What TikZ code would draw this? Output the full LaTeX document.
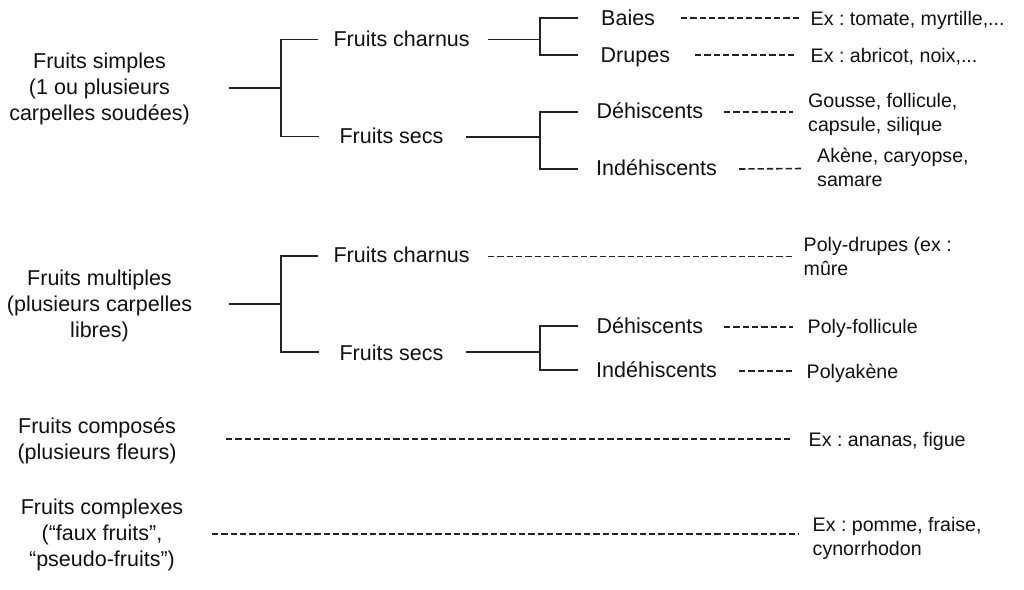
\documentclass[tikz,border=0pt]{standalone}
\usepackage{fontspec}
\setmainfont{Liberation Sans}
\newcommand{\mlines}[2]{\begin{tabular}[t]{@{}#1@{}}#2\end{tabular}}
\definecolor{txt}{HTML}{111111}
\definecolor{ln}{HTML}{222222}
\frenchspacing
\begin{document}
\begin{tikzpicture}[x=1pt,y=-1pt,
  big/.style={inner sep=0pt, font=\fontsize{21.5}{26}\selectfont, text=txt},
  small/.style={inner sep=0pt, font=\fontsize{19.6}{24}\selectfont, text=txt},
  link/.style={draw=ln, line width=1.6pt},
  dline/.style={draw=ln, line width=1.6pt, dash pattern=on 6.3pt off 3pt}]
\useasboundingbox[fill=white] (0,0) rectangle (1024,589);

% ---------- Group 1 : fruits simples ----------
\node[big, anchor=base] (fs) at (99.5,68.5) {\mlines{c}{Fruits simples\\(1 ou plusieurs\\carpelles soudées)}};
\node[big, anchor=base west] (fc1) at (333.3,46.5) {Fruits charnus};
\node[big, anchor=base west] (fsec1) at (339.3,143.5) {Fruits secs};
\node[big, anchor=base west] (baies) at (601,25.5) {Baies};
\node[big, anchor=base west] (drupes) at (600.5,62.5) {Drupes};
\node[small, anchor=base west] (exb) at (810.5,25) {Ex : tomate, myrtille,...};
\node[small, anchor=base west] (exd) at (810.5,62.3) {Ex : abricot, noix,...};
\node[big, anchor=base west] (deh1) at (596.5,118.5) {Déhiscents};
\node[big, anchor=base west] (ind1) at (596,175.5) {Indéhiscents};
\node[small, anchor=base west] (exdeh1) at (808,107) {\mlines{l}{Gousse, follicule,\\capsule, silique}};
\node[small, anchor=base west] (exind1) at (817,162.5) {\mlines{l}{Akène, caryopse,\\samare}};

\coordinate (a1) at (229,88);   \coordinate (j1) at (281,88);
\coordinate (j1t) at (281,39.5); \coordinate (j1b) at (281,136.5);
\coordinate (e1t) at (318,39.5); \coordinate (e1b) at (319,136.5);
\draw[link] (a1) -- (j1);
\draw[link] (e1t) -- (j1t) -- (j1b) -- (e1b);

\coordinate (c1s) at (488,39.5); \coordinate (k1) at (540,39.5);
\coordinate (k1t) at (540,18);   \coordinate (k1b) at (540,55);
\coordinate (k1te) at (578,18);  \coordinate (k1be) at (578,55);
\draw[link] (c1s) -- (k1);
\draw[link] (k1te) -- (k1t) -- (k1b) -- (k1be);

\coordinate (s1s) at (466,137);  \coordinate (m1) at (540,137);
\coordinate (m1t) at (540,112);  \coordinate (m1b) at (540,169);
\coordinate (m1te) at (578,112); \coordinate (m1be) at (578,169);
\draw[link] (s1s) -- (m1);
\draw[link] (m1te) -- (m1t) -- (m1b) -- (m1be);

\coordinate (db1s) at (681,18);  \coordinate (db1e) at (799,18);
\coordinate (dd1s) at (695,55);  \coordinate (dd1e) at (795,55);
\coordinate (dh1s) at (724,112); \coordinate (dh1e) at (793,112);
\coordinate (di1s) at (739,169); \coordinate (di1e) at (804,168.5);
\draw[dline] (db1s) -- (db1e);
\draw[dline] (dd1s) -- (dd1e);
\draw[dline] (dh1s) -- (dh1e);
\draw[dline] (di1s) -- (di1e);

% ---------- Group 2 : fruits multiples ----------
\node[big, anchor=base] (fm) at (99.5,285) {\mlines{c}{Fruits multiples\\(plusieurs carpelles\\libres)}};
\node[big, anchor=base west] (fc2) at (333.3,262.5) {Fruits charnus};
\node[big, anchor=base west] (fsec2) at (339.3,360) {Fruits secs};
\node[big, anchor=base west] (deh2) at (596.5,333.5) {Déhiscents};
\node[big, anchor=base west] (ind2) at (596,377.5) {Indéhiscents};
\node[small, anchor=base west] (expd) at (803.5,251.5) {\mlines{l}{Poly-drupes (ex :\\mûre}};
\node[small, anchor=base west] (expf) at (807.5,333.5) {Poly-follicule};
\node[small, anchor=base west] (expa) at (806.5,378) {Polyakène};

\coordinate (a2) at (229,304);   \coordinate (j2) at (281,304);
\coordinate (j2t) at (281,256);  \coordinate (j2b) at (281,352);
\coordinate (e2t) at (318,256);  \coordinate (e2b) at (319,352);
\draw[link] (a2) -- (j2);
\draw[link] (e2t) -- (j2t) -- (j2b) -- (e2b);

\coordinate (s2s) at (466,352);  \coordinate (m2) at (540,352);
\coordinate (m2t) at (540,326);  \coordinate (m2b) at (540,370);
\coordinate (m2te) at (578,326); \coordinate (m2be) at (578,370);
\draw[link] (s2s) -- (m2);
\draw[link] (m2te) -- (m2t) -- (m2b) -- (m2be);

\coordinate (dc2s) at (488,256.5); \coordinate (dc2e) at (792,256.5);
\coordinate (dh2s) at (724,327);   \coordinate (dh2e) at (793,327);
\coordinate (di2s) at (739,371);   \coordinate (di2e) at (794,371);
\draw[dline] (dc2s) -- (dc2e);
\draw[dline] (dh2s) -- (dh2e);
\draw[dline] (di2s) -- (di2e);

% ---------- Group 3 : fruits composes ----------
\node[big, anchor=base] (fcomp) at (97,433.5) {\mlines{c}{Fruits composés\\(plusieurs fleurs)}};
\node[small, anchor=base west] (exan) at (808.5,446.5) {Ex : ananas, figue};
\coordinate (d3s) at (226,439); \coordinate (d3e) at (793,439);
\draw[dline] (d3s) -- (d3e);

% ---------- Group 4 : fruits complexes ----------
\node[big, anchor=base] (fcx) at (102,514.5) {\mlines{c}{Fruits complexes\\(“faux fruits”,\\“pseudo-fruits”)}};
\node[small, anchor=base west] (expo) at (812.5,531) {\mlines{l}{Ex : pomme, fraise,\\cynorrhodon}};
\coordinate (d4s) at (212,534); \coordinate (d4e) at (799,534);
\draw[dline] (d4s) -- (d4e);
\end{tikzpicture}
\end{document}
